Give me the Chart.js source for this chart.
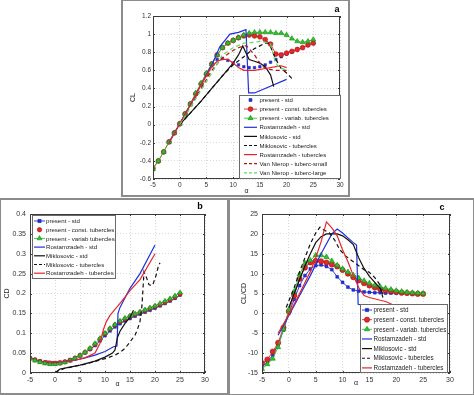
<!DOCTYPE html>
<html><head><meta charset="utf-8">
<script src="https://cdn.jsdelivr.net/npm/chart.js@4.4.1/dist/chart.umd.min.js"></script>
<style>
html,body{margin:0;padding:0;background:#fff;width:474px;height:395px;overflow:hidden;position:relative}
.frame{position:absolute;box-sizing:border-box;border:2px solid #8c8c8c}
canvas{position:absolute}
</style></head><body>
<div class="frame" style="left:121px;top:-1px;width:229px;height:198px"></div>
<div class="frame" style="left:-1px;top:198px;width:230px;height:197px"></div>
<div class="frame" style="left:228px;top:198px;width:247px;height:198px"></div>
<canvas id="ca" width="226" height="195" style="left:123px;top:0px"></canvas>
<canvas id="cb" width="226" height="192" style="left:1px;top:200px"></canvas>
<canvas id="cc" width="243" height="194" style="left:230px;top:200px"></canvas>
<script>
// ---------- shared axis data ----------
const ALPHA = [-5,-4,-3,-2,-1,0,1,2,3,4,5,6,7,8,9,10,11,12,13,14,15,16,17,18,19,20,21,22,23,24,25];
const X_TICKS = [-5,0,5,10,15,20,25,30];
const X_TICK_LABELS = ['-5','0','5','10','15','20','25','30'];

// ---------- panel a : CL ----------
const A_Y_TICKS = [-0.6,-0.4,-0.2,0,0.2,0.4,0.6,0.8,1,1.2];
const A_Y_LABELS = ['-0.6','-0.4','-0.2','0','0.2','0.4','0.6','0.8','1','1.2'];
const CL_STD   = [-0.50,-0.41,-0.31,-0.20,-0.10,0.00,0.11,0.22,0.33,0.44,0.55,0.65,0.72,0.73,0.71,0.68,0.66,0.64,0.63,0.63,0.64,0.66,0.69,0.72,0.75,0.78,0.80,0.83,0.85,0.88,0.90];
const CL_CONST = [-0.48,-0.40,-0.30,-0.19,-0.09,0.01,0.12,0.23,0.34,0.45,0.56,0.67,0.77,0.85,0.90,0.93,0.96,0.98,0.99,0.98,0.97,0.94,0.89,0.78,0.77,0.79,0.81,0.83,0.85,0.88,0.90];
const CL_VAR   = [-0.49,-0.40,-0.30,-0.19,-0.09,0.01,0.12,0.23,0.35,0.46,0.57,0.67,0.77,0.85,0.90,0.93,0.96,0.99,1.01,1.02,1.02,1.02,1.02,1.01,1.01,0.99,0.95,0.92,0.91,0.92,0.94];
const CL_ROST_STD_X = [-2,0,2,4,6,7.5,9.4,11,12.4,12.9,14,20];
const CL_ROST_STD_Y = [-0.20,0.01,0.22,0.44,0.66,0.86,1.00,1.02,1.05,0.35,0.35,0.50];
const CL_MIK_STD_X = [0,2,4,6,8,10,11,11.8,12.5,13,14,15,16,17,17.6];
const CL_MIK_STD_Y = [0,0.13,0.26,0.40,0.54,0.68,0.77,0.87,0.78,0.72,0.70,0.68,0.64,0.55,0.42];
const CL_MIK_TUB_X = [0,4,8,10,12,13,14,15,16,16.5,17,18,19,20,21];
const CL_MIK_TUB_Y = [0,0.26,0.54,0.66,0.75,0.80,0.84,0.87,0.90,0.90,0.86,0.72,0.62,0.57,0.51];
const CL_ROST_TUB_X = [-2,0,2,4,6,7,8,9,10,11,12,14,16,18,19,20];
const CL_ROST_TUB_Y = [-0.20,0.01,0.22,0.44,0.64,0.70,0.72,0.72,0.68,0.63,0.60,0.60,0.62,0.64,0.65,0.63];
const CL_VN_SMALL_X = [0,2,4,6,8,10,11,12,12.5,13,14,15,16,18,20];
const CL_VN_SMALL_Y = [0,0.20,0.40,0.60,0.74,0.82,0.85,0.87,0.87,0.84,0.77,0.68,0.62,0.60,0.60];
const CL_VN_LARGE_X = [0,2,4,6,8,10,12,14,15,16,17,17.8,18.4,20];
const CL_VN_LARGE_Y = [0,0.19,0.38,0.57,0.77,0.85,0.90,0.91,0.92,0.91,0.89,0.71,0.64,0.60];

// ---------- panel b : CD ----------
const B_Y_TICKS = [0,0.05,0.1,0.15,0.2,0.25,0.3,0.35,0.4];
const B_Y_LABELS = ['0','0.05','0.1','0.15','0.2','0.25','0.3','0.35','0.4'];
const CD_STD   = [0.038,0.034,0.030,0.027,0.026,0.026,0.027,0.029,0.033,0.038,0.044,0.051,0.059,0.069,0.081,0.094,0.106,0.116,0.124,0.131,0.137,0.143,0.148,0.153,0.158,0.163,0.169,0.175,0.181,0.188,0.196];
const CD_CONST = [0.037,0.033,0.029,0.026,0.024,0.024,0.025,0.028,0.032,0.037,0.044,0.052,0.061,0.072,0.085,0.099,0.111,0.121,0.129,0.136,0.142,0.147,0.152,0.157,0.162,0.167,0.172,0.178,0.184,0.191,0.199];
const CD_VAR   = [0.036,0.031,0.027,0.024,0.022,0.022,0.024,0.027,0.031,0.037,0.044,0.052,0.062,0.074,0.087,0.100,0.112,0.122,0.131,0.138,0.144,0.149,0.154,0.159,0.164,0.169,0.175,0.181,0.187,0.194,0.202];
const CD_ROST_STD_X = [-2,0,2,4,6,8,10,11.7,12.4,12.6,13,15,17,20];
const CD_ROST_STD_Y = [0.030,0.028,0.029,0.032,0.038,0.045,0.054,0.066,0.068,0.150,0.165,0.213,0.250,0.322];
const CD_MIK_STD_X = [0,0.5,1,3,5,8,10,11.5,12,12.5,13,14,15,15.7];
const CD_MIK_STD_Y = [0.000,0.005,0.010,0.015,0.020,0.030,0.040,0.050,0.058,0.090,0.105,0.125,0.140,0.158];
const CD_MIK_TUB_X = [0,2,4,6,8,10,12,13,14,15,16,16.5,17,17.4,17.8,18.3,18.8,19.5,20.2,20.7,21];
const CD_MIK_TUB_Y = [0.002,0.012,0.017,0.022,0.029,0.036,0.045,0.052,0.062,0.078,0.095,0.110,0.130,0.170,0.255,0.240,0.222,0.220,0.245,0.270,0.277];
const CD_ROST_TUB_X = [-2,0,2,4,6,8,9,9.7,10.3,11,12,13,15,17,20];
const CD_ROST_TUB_Y = [0.030,0.028,0.029,0.032,0.038,0.050,0.075,0.110,0.130,0.145,0.160,0.175,0.207,0.235,0.300];

// ---------- panel c : CL/CD ----------
const C_Y_TICKS = [-15,-10,-5,0,5,10,15,20,25];
const C_Y_LABELS = ['-15','-10','-5','0','5','10','15','20','25'];
const LD_STD   = [-13.5,-12.2,-10.5,-7.8,-4.2,0.0,3.5,7.0,9.5,11.2,12.0,12.2,11.8,11.0,9.2,7.8,6.6,5.9,5.6,5.4,5.3,5.2,5.2,5.1,5.1,5.1,5.0,5.0,5.0,5.0,5.0];
const LD_CONST = [-12.5,-11.6,-9.6,-7.4,-3.6,0.5,4.5,8.7,11.5,12.8,13.2,13.1,12.8,12.3,11.8,10.9,10.0,9.1,8.3,7.6,7.0,6.5,6.1,5.8,5.6,5.4,5.2,5.1,5.0,4.9,4.9];
const LD_VAR   = [-14.0,-12.8,-11.4,-8.5,-4.0,1.0,5.5,9.8,12.6,13.3,14.6,14.6,14.2,13.2,12.1,11.2,10.4,9.6,8.9,8.2,7.6,7.1,6.7,6.3,6.0,5.7,5.5,5.3,5.2,5.1,5.0];
const LD_ROST_STD_X = [-2,0,2,4,6,8,9,10,11,12,12.6,12.9,14,17,20];
const LD_ROST_STD_Y = [-5.5,-0.5,4.5,9.5,15,20,21.2,20.2,19,17.8,17.2,2.3,2.0,1.9,1.8];
const LD_MIK_STD_X = [0,1,2,3,4,5,6,7,8,9,10,11,12,13,14,15,16,17,17.5];
const LD_MIK_STD_Y = [1.5,5,8.5,12,15,17.8,19.3,20,20,20,19.5,18.5,17.3,14,11.3,9.3,7.8,6.3,4.8];
const LD_MIK_TUB_X = [-0.5,1,2,3,4,5,5.8,6.5,7.5,8.5,9.5,10.5,12,13,14,15,16,16.8,17.5];
const LD_MIK_TUB_Y = [1.5,6.5,10.5,14,17.5,20.2,21.7,21,20.3,18.5,16,14.5,13,12,11,10.3,9,7.5,4];
const LD_ROST_TUB_X = [-2,0,2,4,5,6,7,8,9,10,11,12,13,14,15,17,18,20,21];
const LD_ROST_TUB_Y = [-5,-0.3,5,10.5,14,18,23,21.5,19.5,16,13,9.5,6.5,4.5,4,3.3,3,1.8,1.5];

// ---------- styling ----------
const FF = '"Liberation Sans", Arial, sans-serif';
const BLUE='#1f30e0', RED='#e6262a', GREEN='#2fc22f', BLACK='#111111', DRED='#b8121a', LGREEN='#5ede5e';

function pts(xs, ys){ return xs.map((x,i)=>({x:x, y:ys[i]})); }
function presentSets(ys1, ys2, ys3, s){
  return [
    {label:'present - std', data:pts(ALPHA,ys1), showLine:s.stdLine, borderColor:BLUE, borderWidth:0.9,
     pointStyle:'rect', pointRadius:s.r1, pointBackgroundColor:BLUE, pointBorderColor:'#1222a0', pointBorderWidth:0.5},
    {label:'present - const. tubercles', data:pts(ALPHA,ys2), showLine:s.constLine, borderColor:RED, borderWidth:0.9,
     pointStyle:'circle', pointRadius:s.r2, pointBackgroundColor:RED, pointBorderColor:'#a01010', pointBorderWidth:0.6},
    {label:s.varLabel, data:pts(ALPHA,ys3), showLine:true, borderColor:GREEN, borderWidth:0.9,
     pointStyle:'triangle', pointRadius:s.r3, pointBackgroundColor:GREEN, pointBorderColor:'#178a17', pointBorderWidth:0.6}
  ];
}
function lineSet(label, xs, ys, color, dash, w){
  return {label:label, data:pts(xs,ys), showLine:true, borderColor:color, borderWidth:w||1.2, borderDash:dash||[], pointRadius:0, pointHoverRadius:0};
}
function drawMarker(ctx, style, x, y, r, fill, stroke){
  ctx.beginPath();
  if(style==='circle'){ ctx.arc(x,y,r,0,Math.PI*2); }
  else if(style==='rect'){ const s=r*0.8; ctx.rect(x-s,y-s,2*s,2*s); }
  else { ctx.moveTo(x,y-r); ctx.lineTo(x+r*0.87,y+r*0.5); ctx.lineTo(x-r*0.87,y+r*0.5); ctx.closePath(); }
  ctx.fillStyle=fill; ctx.fill(); ctx.lineWidth=0.6; ctx.strokeStyle=stroke; ctx.stroke();
}

const matlabPlugin = {
  id:'matlab',
  afterDatasetsDraw(chart, args, o){
    const ctx=chart.ctx, a=chart.chartArea, xs=chart.scales.x, ys=chart.scales.y;
    ctx.save();
    ctx.strokeStyle='#3a3a3a'; ctx.lineWidth=1; ctx.setLineDash([]);
    ctx.beginPath();
    xs.ticks.forEach(t=>{const p=Math.round(xs.getPixelForValue(t.value))+0.5;
      ctx.moveTo(p,a.bottom); ctx.lineTo(p,a.bottom-2); ctx.moveTo(p,a.top); ctx.lineTo(p,a.top+2);});
    ys.ticks.forEach(t=>{const p=Math.round(ys.getPixelForValue(t.value))+0.5;
      ctx.moveTo(a.left,p); ctx.lineTo(a.left+2,p); ctx.moveTo(a.right,p); ctx.lineTo(a.right-2,p);});
    ctx.stroke();
    ctx.strokeRect(Math.round(a.left)+0.5, Math.round(a.top)+0.5, Math.round(a.right-a.left)-1, Math.round(a.bottom-a.top)-1);
    ctx.restore();
  },
  afterDraw(chart, args, o){
    const ctx=chart.ctx, a=chart.chartArea, L=o.legend;
    ctx.save();
    // legend
    ctx.fillStyle='#fff'; ctx.fillRect(L.x,L.y,L.w,L.h);
    ctx.strokeStyle='#6a6a6a'; ctx.lineWidth=1; ctx.strokeRect(L.x+0.5,L.y+0.5,L.w-1,L.h-1);
    chart.data.datasets.forEach((d,i)=>{
      const y=L.y0+i*L.dy;
      if(d.legendLine!==false && (d.showLine!==false)){
        ctx.save(); ctx.strokeStyle=d.borderColor; ctx.lineWidth=d.borderWidth;
        ctx.setLineDash(d.borderDash&&d.borderDash.length?[3,2]:[]);
        ctx.beginPath(); ctx.moveTo(L.s0,y); ctx.lineTo(L.s1,y); ctx.stroke(); ctx.restore();
      }
      if(d.pointRadius>0) drawMarker(ctx,d.pointStyle,(L.s0+L.s1)/2,y,d.pointRadius,d.pointBackgroundColor,d.pointBorderColor);
      ctx.fillStyle='#222'; ctx.font=L.fs+'px '+FF; ctx.textBaseline='middle'; ctx.textAlign='left';
      ctx.fillText(d.label,L.tx,y+0.5);
    });
    // axis titles
    ctx.fillStyle='#222'; ctx.font='7px '+FF; ctx.textAlign='center'; ctx.textBaseline='middle';
    ctx.fillText(o.xTitle,(a.left+a.right)/2,a.bottom+o.xTitleDy);
    ctx.save(); ctx.translate(o.yTitleX,(a.top+a.bottom)/2); ctx.rotate(-Math.PI/2);
    ctx.font='7px '+FF; ctx.fillText(o.yTitle,0,0); ctx.restore();
    // panel letter
    ctx.font='bold 9px '+FF; ctx.fillStyle='#000'; ctx.fillText(o.panel,o.panelX,o.panelY);
    ctx.restore();
  }
};

function makeChart(id, datasets, cfg){
  const fs=cfg.fs;
  return new Chart(document.getElementById(id), {
    type:'line',
    data:{datasets:datasets.map((d,i)=>Object.assign({order:datasets.length-i, tension:0, fill:false}, d))},
    options:{
      responsive:false, animation:false, devicePixelRatio:1, events:[],
      layout:{padding:{left:0,right:cfg.padR,top:cfg.padT,bottom:0}},
      plugins:{legend:{display:false}, tooltip:{enabled:false}, matlab:cfg.plugin},
      scales:{
        x:{type:'linear', min:-5, max:30,
           afterBuildTicks:s=>{s.ticks=X_TICKS.map(v=>({value:v}));},
           ticks:{callback:v=>X_TICK_LABELS[X_TICKS.indexOf(v)], font:{size:fs,family:FF}, color:'#333', padding:cfg.xPad, maxRotation:0, autoSkip:false},
           grid:{color:'#cfcfcf', lineWidth:0.8, drawTicks:false},
           border:{display:false, dash:[1,2]},
           afterFit:s=>{s.height=cfg.xH;}},
        y:{type:'linear', min:cfg.yTicks[0], max:cfg.yTicks[cfg.yTicks.length-1],
           afterBuildTicks:s=>{s.ticks=cfg.yTicks.map(v=>({value:v}));},
           ticks:{callback:v=>cfg.yLabels[cfg.yTicks.indexOf(v)], font:{size:fs,family:FF}, color:'#333', padding:cfg.yPad, autoSkip:false},
           grid:{color:'#cfcfcf', lineWidth:0.8, drawTicks:false},
           border:{display:false, dash:[1,2]},
           afterFit:s=>{s.width=cfg.yW;}}
      }
    },
    plugins:[matlabPlugin]
  });
}

// ---------- panel a ----------
const setsA = presentSets(CL_STD, CL_CONST, CL_VAR, {stdLine:false, constLine:true, r1:1.8, r2:2.4, r3:2.9, varLabel:'present - variab. tubercles'})
 .concat([
  lineSet('Rostamzadeh - std', CL_ROST_STD_X, CL_ROST_STD_Y, BLUE),
  lineSet('Miklosovic - std', CL_MIK_STD_X, CL_MIK_STD_Y, BLACK),
  lineSet('Miklosovic - tubercles', CL_MIK_TUB_X, CL_MIK_TUB_Y, BLACK, [4,3]),
  lineSet('Rostamzadeh - tubercles', CL_ROST_TUB_X, CL_ROST_TUB_Y, RED),
  lineSet('Van Nierop - tuberc-small', CL_VN_SMALL_X, CL_VN_SMALL_Y, DRED, [4,3]),
  lineSet('Van Nierop - tuberc-large', CL_VN_LARGE_X, CL_VN_LARGE_Y, LGREEN, [4,3])
 ]);
makeChart('ca', setsA, {fs:6.5, padR:9, padT:16, xH:16, yW:30, xPad:2, yPad:2, yTicks:A_Y_TICKS, yLabels:A_Y_LABELS,
  plugin:{legend:{x:116,y:95,w:102,h:84,y0:100,dy:9.1,s0:121,s1:134,tx:136.5,fs:6},
          xTitle:'α', xTitleDy:12, yTitle:'CL', yTitleX:10, panel:'a', panelX:214, panelY:10}});

// ---------- panel b ----------
const setsB = presentSets(CD_STD, CD_CONST, CD_VAR, {stdLine:true, constLine:false, r1:2, r2:2.2, r3:2.8, varLabel:'present - variab tubercles'})
 .concat([
  lineSet('Rostamzadeh - std', CD_ROST_STD_X, CD_ROST_STD_Y, BLUE),
  lineSet('Miklosovic - std', CD_MIK_STD_X, CD_MIK_STD_Y, BLACK),
  lineSet('Miklosovic - tubercles', CD_MIK_TUB_X, CD_MIK_TUB_Y, BLACK, [4,3]),
  lineSet('Rostamzadeh - tubercles', CD_ROST_TUB_X, CD_ROST_TUB_Y, RED)
 ]);
makeChart('cb', setsB, {fs:7, padR:22, padT:14, xH:19, yW:29, xPad:2.5, yPad:4, yTicks:B_Y_TICKS, yLabels:B_Y_LABELS,
  plugin:{legend:{x:31,y:15,w:84,h:64,y0:21,dy:8.7,s0:33,s1:44,tx:45,fs:6.1},
          xTitle:'α', xTitleDy:11, yTitle:'CD', yTitleX:6, panel:'b', panelX:199, panelY:7}});

// ---------- panel c ----------
const setsC = presentSets(LD_STD, LD_CONST, LD_VAR, {stdLine:true, constLine:true, r1:2, r2:2.6, r3:3, varLabel:'present - variab. tubercles'})
 .concat([
  lineSet('Rostamzadeh - std', LD_ROST_STD_X, LD_ROST_STD_Y, BLUE),
  lineSet('Miklosovic - std', LD_MIK_STD_X, LD_MIK_STD_Y, BLACK),
  lineSet('Miklosovic - tubercles', LD_MIK_TUB_X, LD_MIK_TUB_Y, BLACK, [4,3]),
  lineSet('Rostamzadeh - tubercles', LD_ROST_TUB_X, LD_ROST_TUB_Y, RED)
 ]);
makeChart('cc', setsC, {fs:7, padR:23, padT:14, xH:21, yW:32, xPad:2.5, yPad:4, yTicks:C_Y_TICKS, yLabels:C_Y_LABELS,
  plugin:{legend:{x:130,y:104,w:88,h:69,y0:110,dy:9.65,s0:132,s1:142,tx:143.5,fs:6.3},
          xTitle:'α', xTitleDy:10, yTitle:'CL/CD', yTitleX:14, panel:'c', panelX:212, panelY:8}});
</script>
</body></html>
